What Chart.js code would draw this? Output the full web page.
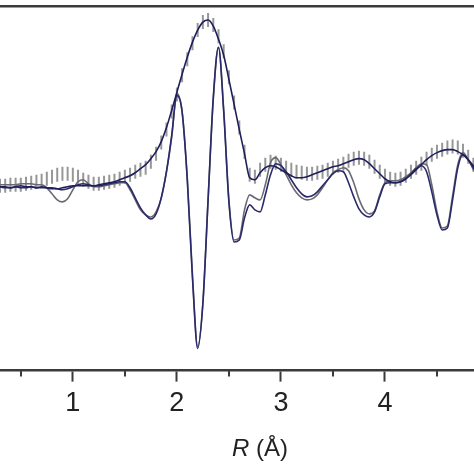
<!DOCTYPE html>
<html>
<head>
<meta charset="utf-8">
<script src="https://cdn.jsdelivr.net/npm/chart.js@4.4.1/dist/chart.umd.min.js"></script>
<style>
  html, body { margin: 0; padding: 0; background: #fff; overflow: hidden; }
</style>
</head>
<body>
<canvas id="chart" width="520" height="474"></canvas>
<script>
// R grid (Å)
const rValues = [
  0.30, 0.35, 0.40, 0.45, 0.50, 0.55, 0.60, 0.65, 0.70, 0.75,
  0.80, 0.85, 0.90, 0.95, 1.00, 1.05, 1.10, 1.15, 1.20, 1.25,
  1.30, 1.35, 1.40, 1.45, 1.50, 1.55, 1.60, 1.65, 1.70, 1.75,
  1.80, 1.85, 1.90, 1.95, 2.00, 2.05, 2.10, 2.15, 2.20, 2.25,
  2.30, 2.35, 2.40, 2.45, 2.50, 2.55, 2.60, 2.65, 2.70, 2.75,
  2.80, 2.85, 2.90, 2.95, 3.00, 3.05, 3.10, 3.15, 3.20, 3.25,
  3.30, 3.35, 3.40, 3.45, 3.50, 3.55, 3.60, 3.65, 3.70, 3.75,
  3.80, 3.85, 3.90, 3.95, 4.00, 4.05, 4.10, 4.15, 4.20, 4.25,
  4.30, 4.35, 4.40, 4.45, 4.50, 4.55, 4.60, 4.65, 4.70, 4.75,
  4.80, 4.85, 4.90
];

// |FT| experimental (drawn as vertical bars)
const magData = [
  -0.05, -0.05, 0, 0, 0, 0.05, 0.1, 0.15, 0.2, 0.3,
  0.4, 0.5, 0.55, 0.55, 0.5, 0.4, 0.25, 0.15, 0.05, 0.05,
  0.1, 0.15, 0.2, 0.3, 0.4, 0.5, 0.65, 0.75, 0.85, 1.15,
  1.55, 2.1, 2.75, 3.65, 4.5, 5.45, 6.25, 7.05, 7.7, 8.1,
  8.2, 7.95, 7.4, 6.65, 5.35, 4.1, 2.85, 1.65, 0.5, 0.4,
  0.75, 1.0, 1.15, 1.1, 1.0, 0.85, 0.75, 0.65, 0.6, 0.55,
  0.55, 0.6, 0.65, 0.75, 0.85, 0.95, 1.05, 1.2, 1.3, 1.35,
  1.3, 1.15, 0.9, 0.65, 0.45, 0.3, 0.25, 0.3, 0.45, 0.65,
  0.85, 1.05, 1.3, 1.5, 1.65, 1.75, 1.85, 1.9, 1.85, 1.7,
  1.4, 1.0, 0.65
];

// |FT| fit
const magFit = [
  -0.1, -0.1, -0.15, -0.1, -0.05, -0.1, -0.1, -0.15, -0.1, -0.15,
  -0.2, -0.2, -0.15, -0.1, -0.05, -0.05, -0.05, -0.05, -0.05, 0,
  0.05, 0.1, 0.15, 0.25, 0.35, 0.45, 0.6, 0.8, 1.0, 1.3,
  1.65, 2.15, 2.85, 3.7, 4.6, 5.5, 6.35, 7.1, 7.7, 8.1,
  8.2, 7.9, 7.25, 6.45, 5.25, 4.0, 2.75, 1.55, 0.35, 0.25,
  0.6, 0.85, 0.95, 0.9, 0.75, 0.6, 0.45, 0.35, 0.35, 0.4,
  0.5, 0.6, 0.7, 0.8, 0.9, 0.95, 1.05, 1.15, 1.25, 1.3,
  1.25, 1.05, 0.8, 0.55, 0.3, 0.15, 0.1, 0.15, 0.3, 0.5,
  0.75, 1.0, 1.25, 1.45, 1.6, 1.7, 1.75, 1.75, 1.65, 1.5,
  1.25, 0.95, 0.65
];

// Im part experimental
const imData = [
  0, 0, 0, 0, 0.05, 0.05, 0.05, 0, 0, -0.15,
  -0.45, -0.75, -0.85, -0.7, -0.25, 0.15, 0.25, 0.05, -0.1, -0.1,
  -0.05, 0, 0.05, 0.1, 0.1, -0.25, -0.75, -1.25, -1.5, -1.6,
  -1.35, -0.65, 0.65, 2.35, 4.55, 3.65, 0.35, -4.5, -8.05, -5.9,
  -0.75, 4.25, 6.85, 3.75, -0.75, -2.75, -2.65, -1.25, -0.5, -0.65,
  -0.75, 0, 1.1, 1.35, 1.0, 0.5, 0, -0.4, -0.65, -0.75,
  -0.7, -0.5, -0.15, 0.25, 0.6, 0.75, 0.85, 0.7, 0.1, -0.7,
  -1.25, -1.45, -1.3, -0.5, 0.1, 0.2, 0.2, 0.25, 0.4, 0.6,
  0.85, 1.05, 1.0, 0, -1.35, -2.15, -2.05, -0.55, 1.0, 1.6,
  1.25, 0.75, 0.35
];

// Im part fit
const imFit = [
  -0.1, -0.15, -0.15, -0.1, -0.15, -0.15, -0.1, -0.15, -0.15, -0.15,
  -0.15, -0.2, -0.25, -0.2, -0.1, 0, 0.05, 0, -0.05, -0.05,
  0, 0.05, 0.1, 0.15, 0.15, -0.15, -0.65, -1.15, -1.5, -1.7,
  -1.45, -0.65, 0.65, 2.45, 4.45, 3.65, 0.25, -4.65, -8.15, -5.9,
  -0.75, 4.35, 6.85, 3.65, -0.85, -2.85, -2.75, -1.65, -1.0, -1.25,
  -1.35, -0.5, 0.5, 1.05, 0.95, 0.65, 0.25, -0.15, -0.45, -0.6,
  -0.55, -0.35, -0.05, 0.25, 0.55, 0.7, 0.65, 0.1, -0.6, -1.2,
  -1.5, -1.6, -1.35, -0.6, 0.05, 0.1, 0.1, 0.15, 0.3, 0.55,
  0.8, 0.95, 0.65, -0.35, -1.5, -2.25, -2.15, -0.75, 0.85, 1.5,
  1.25, 0.85, 0.45
];

const majorTicks = [1, 2, 3, 4, 5];
const minorTicks = [0.5, 1.5, 2.5, 3.5, 4.5];

function toPoints(values) {
  return rValues.map((r, i) => ({ x: r, y: values[i] }));
}

// short minor tick marks under the bottom axis
const minorTickPlugin = {
  id: 'minorTicks',
  afterDraw(chart) {
    const ctx = chart.ctx;
    const xs = chart.scales.x;
    const y0 = chart.chartArea.bottom;
    ctx.save();
    ctx.strokeStyle = '#3a3a3a';
    ctx.lineWidth = 2;
    minorTicks.forEach(v => {
      const px = Math.round(xs.getPixelForValue(v));
      ctx.beginPath();
      ctx.moveTo(px, y0);
      ctx.lineTo(px, y0 + 6);
      ctx.stroke();
    });
    ctx.restore();
  }
};

// axis title with an italic "R"
const axisTitlePlugin = {
  id: 'axisTitle',
  afterDraw(chart) {
    const ctx = chart.ctx;
    const xs = chart.scales.x;
    const family = 'Liberation Sans, Arial, sans-serif';
    const partA = 'R';
    const partB = ' (Å)';
    ctx.save();
    ctx.fillStyle = '#222';
    ctx.textBaseline = 'alphabetic';
    ctx.font = 'italic 24px ' + family;
    const wA = ctx.measureText(partA).width;
    ctx.font = '24px ' + family;
    const wB = ctx.measureText(partB).width;
    const cx = (xs.left + xs.right) / 2;
    const y = chart.chartArea.bottom + 85;
    const x = cx - (wA + wB) / 2;
    ctx.font = 'italic 24px ' + family;
    ctx.fillText(partA, x, y);
    ctx.font = '24px ' + family;
    ctx.fillText(partB, x + wA, y);
    ctx.restore();
  }
};

const ctx = document.getElementById('chart').getContext('2d');
new Chart(ctx, {
  type: 'line',
  data: {
    datasets: [
      {
        label: 'FT magnitude (exp)',
        data: toPoints(magData),
        showLine: false,
        pointStyle: 'line',
        rotation: 90,
        pointRadius: 7,
        pointBorderWidth: 2,
        pointBorderColor: 'rgba(125,125,125,0.8)',
        pointBackgroundColor: 'rgba(125,125,125,0.8)',
        order: 4
      },
      {
        label: 'Im (exp)',
        data: toPoints(imData),
        borderColor: '#6a6a72',
        borderWidth: 1.6,
        pointRadius: 0,
        cubicInterpolationMode: 'monotone',
        order: 3
      },
      {
        label: 'Im (fit)',
        data: toPoints(imFit),
        borderColor: '#2a2a6a',
        borderWidth: 1.6,
        pointRadius: 0,
        cubicInterpolationMode: 'monotone',
        order: 2
      },
      {
        label: 'FT magnitude (fit)',
        data: toPoints(magFit),
        borderColor: '#1e1e5c',
        borderWidth: 1.6,
        pointRadius: 0,
        cubicInterpolationMode: 'monotone',
        order: 1
      }
    ]
  },
  options: {
    responsive: false,
    animation: false,
    layout: { autoPadding: false, padding: { top: 6, left: 0, right: 0, bottom: 48 } },
    plugins: {
      legend: { display: false },
      tooltip: { enabled: false }
    },
    scales: {
      x: {
        type: 'linear',
        position: 'bottom',
        min: 0.3,
        max: 5.298,
        afterBuildTicks: scale => {
          scale.ticks = majorTicks.map(v => ({ value: v }));
        },
        grid: {
          drawOnChartArea: false,
          drawTicks: true,
          tickLength: 11,
          tickWidth: 2,
          tickColor: '#3a3a3a'
        },
        border: { display: true, color: '#3a3a3a', width: 2.5 },
        ticks: {
          color: '#222',
          padding: 6,
          font: { family: 'Liberation Sans, Arial, sans-serif', size: 27 }
        }
      },
      x2: {
        type: 'linear',
        position: 'top',
        min: 0.3,
        max: 5.298,
        grid: { display: false, drawTicks: false },
        ticks: { display: false },
        border: { display: true, color: '#3a3a3a', width: 2.5 }
      },
      y: {
        display: false,
        min: -9.25,
        max: 8.9
      }
    }
  },
  plugins: [minorTickPlugin, axisTitlePlugin]
});
</script>
</body>
</html>
